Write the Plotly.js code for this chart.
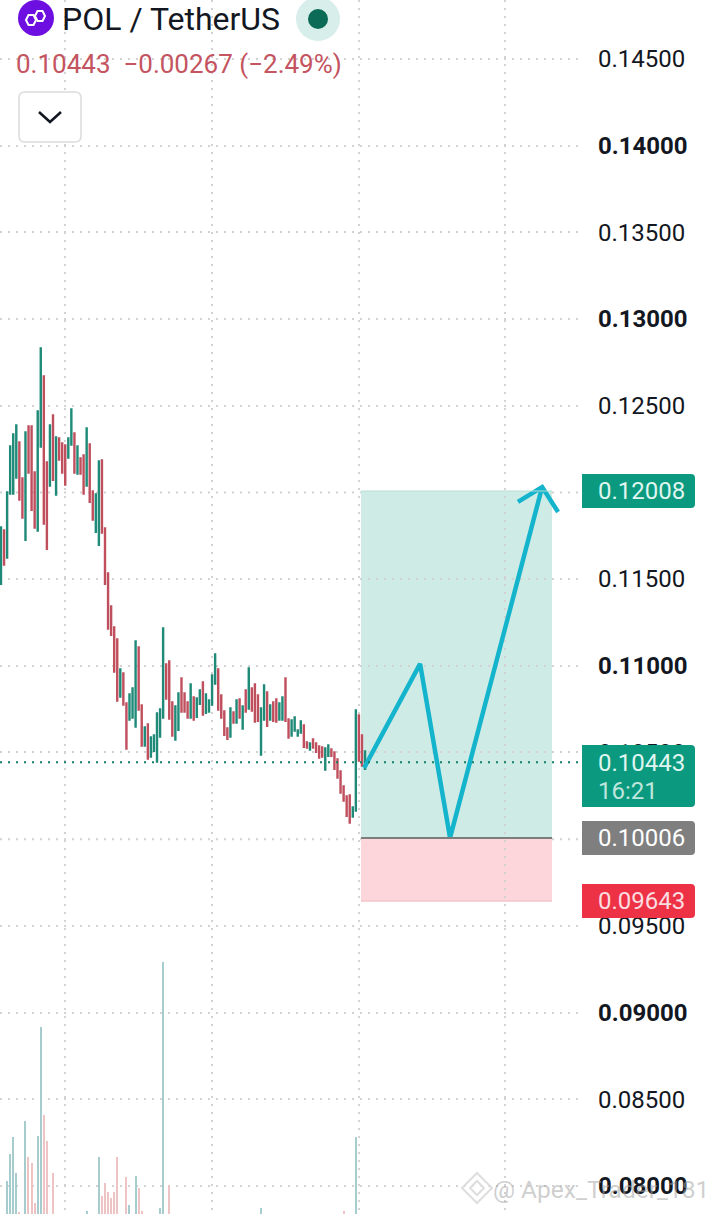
<!DOCTYPE html>
<html>
<head>
<meta charset="utf-8">
<script src="https://cdn.plot.ly/plotly-3.0.1.min.js"></script>
<style>html,body{margin:0;padding:0;background:#fff;overflow:hidden}#c{width:720px;height:1214px}</style>
</head>
<body>
<div id="c"></div>
<script>
const highs=[.11800,.11783,.12002,.12267,.12337,.12389,.12291,.12083,.12348,.12383,.12383,.12118,.12469,.12833,.12671,.12175,.12389,.12446,.12319,.12314,.12285,.12273,.12314,.12481,.12342,.12267,.12198,.12216,.12371,.12279,.12008,.11991,.12181,.12187,.11795,.11535,.11345,.11223,.11154,.10981,.10958,.10785,.10837,.10872,.11143,.11108,.10774,.10647,.10664,.10589,.10600,.10727,.10751,.11218,.11010,.11027,.10791,.10768,.10843,.10929,.10843,.10791,.10895,.10820,.10814,.10860,.10906,.10837,.10802,.10947,.11068,.10981,.10831,.10739,.10641,.10756,.10733,.10802,.10808,.10768,.10860,.10987,.10872,.10895,.10831,.10756,.10889,.10848,.10774,.10791,.10808,.10785,.10820,.10929,.10693,.10687,.10704,.10629,.10681,.10658,.10560,.10554,.10577,.10554,.10537,.10531,.10526,.10543,.10520,.10502,.10462,.10393,.10306,.10249,.10254,.10185,.10745,.10716,.10600,.10508];
const lows=[.11471,.11581,.11622,.11991,.11991,.12083,.11956,.11852,.11725,.12112,.11898,.11795,.11777,.12262,.11818,.11673,.12037,.12071,.11985,.12187,.12112,.12043,.12198,.12273,.12112,.12106,.12106,.11991,.12037,.11944,.11841,.11771,.11696,.11766,.11471,.11212,.11177,.10964,.10797,.10820,.10774,.10520,.10687,.10699,.10647,.10745,.10537,.10537,.10462,.10474,.10508,.10445,.10589,.10699,.10808,.10693,.10595,.10572,.10629,.10733,.10733,.10699,.10699,.10687,.10704,.10779,.10716,.10727,.10733,.10774,.10895,.10745,.10699,.10600,.10577,.10589,.10670,.10670,.10699,.10635,.10733,.10751,.10739,.10676,.10681,.10485,.10687,.10652,.10687,.10681,.10676,.10687,.10687,.10681,.10583,.10595,.10624,.10595,.10612,.10531,.10526,.10514,.10526,.10502,.10468,.10474,.10399,.10479,.10479,.10404,.10353,.10266,.10220,.10133,.10093,.10128,.10162,.10451,.10422,.10404];
const rising=[1,0,1,1,1,1,0,0,1,0,0,0,1,1,0,0,1,0,1,0,0,0,1,1,0,1,0,0,1,0,0,1,1,0,0,0,0,0,0,1,0,0,1,1,1,0,0,1,0,1,1,1,1,1,0,0,0,1,1,0,0,0,1,0,1,1,0,1,1,1,1,0,0,0,0,1,0,1,0,1,0,1,0,0,0,1,1,0,1,0,0,1,1,0,0,1,1,1,1,0,0,1,0,0,0,0,1,1,0,0,0,0,0,0,0,1,1,0,0,1];
const volumeIndex=[2,3,4,5,6,8,9,10,11,12,13,14,15,17,28,32,33,34,35,36,37,38,41,42,44,45,46,52,53,55,85,112,116];
const volumeValues=[33,60,77,41,2,93,57,51,11,78,187,99,73,41,3,57,18,31,22,16,22,57,37,9,38,26,3,6,252,29,6,3,77];
const priceTicks=[.145,.14,.135,.13,.125,.115,.11,.105,.095,.09,.085,.08];
const priceTickText=['0.14500','<b>0.14000</b>','0.13500','<b>0.13000</b>','0.12500','0.11500','<b>0.11000</b>','0.10500','0.09500','<b>0.09000</b>','0.08500','<b>0.08000</b>'];
const gridPrices=[.12,.10];
const timeGrid=[20.9,69,117,164.8];
const pathX=[118.7,137,146.8,176.9];
const pathY=[.10411,.11011,.10007,.12031];
const arrowX=[169,176.9,182.1];
const arrowY=[.11945,.12031,.11887];
const lastPrice=.10443, entry=.10006, target=.12008, stop=.09643;
const positionStart=117.69, positionEnd=180.12;

const PW=582,PH=1214;
const px=x=>x/PW, py=y=>1-y/PH;
const GREEN='#1f8a78',RED='#c04f5e';
const idx=highs.map((_,i)=>i);
const opens=idx.map(i=>rising[i]?lows[i]:highs[i]);
const closes=idx.map(i=>rising[i]?highs[i]:lows[i]);

const traces=[
 {type:'bar',x:volumeIndex,y:volumeValues,yaxis:'y2',width:.36,
  marker:{color:volumeIndex.map(i=>rising[i]?'#a6cccd':'#eec3c4'),line:{width:0}},hoverinfo:'skip'},
 {type:'candlestick',x:idx,open:opens,high:highs,low:lows,close:closes,whiskerwidth:0,
  increasing:{line:{color:GREEN,width:1.6},fillcolor:GREEN},
  decreasing:{line:{color:RED,width:1.6},fillcolor:RED}},
 {type:'scatter',mode:'lines',x:pathX,y:pathY,line:{color:'#14b4cd',width:4.5,simplify:false}},
 {type:'scatter',mode:'lines',x:arrowX,y:arrowY,line:{color:'#14b4cd',width:4.5,simplify:false}}
];

function rr(x0,y0,x1,y1,r,squareLeft){
 const X=px,Y=py;const l=squareLeft?0:r;
 return `M${X(x0+l)},${Y(y0)} L${X(x1-r)},${Y(y0)} Q${X(x1)},${Y(y0)} ${X(x1)},${Y(y0+r)} L${X(x1)},${Y(y1-r)} Q${X(x1)},${Y(y1)} ${X(x1-r)},${Y(y1)} L${X(x0+l)},${Y(y1)} Q${X(x0)},${Y(y1)} ${X(x0)},${Y(y1-l)} L${X(x0)},${Y(y0+l)} Q${X(x0)},${Y(y0)} ${X(x0+l)},${Y(y0)} Z`;
}
function poly(pts){return 'M'+pts.map(p=>px(p[0])+','+py(p[1])).join(' L')+' Z';}
function open(pts){return 'M'+pts.map(p=>px(p[0])+','+py(p[1])).join(' L');}
function hex(cx,cy,r){return poly([[cx-r,cy],[cx-r/2,cy-r],[cx+r/2,cy-r],[cx+r,cy],[cx+r/2,cy+r],[cx-r/2,cy+r]]);}
const pshape=(path,fill,line,w)=>({type:'path',xref:'paper',yref:'paper',path,fillcolor:fill||'rgba(0,0,0,0)',line:{color:line||'rgba(0,0,0,0)',width:w||0},layer:'above'});
const circle=(cx,cy,r,fill)=>({type:'circle',xref:'paper',yref:'paper',x0:px(cx-r),x1:px(cx+r),y0:py(cy+r),y1:py(cy-r),fillcolor:fill,line:{width:0},layer:'above'});

const shapes=[
 {type:'rect',xref:'x',yref:'y',x0:positionStart,x1:positionEnd,y0:entry,y1:target,fillcolor:'#cfebe5',line:{width:0},layer:'below'},
 {type:'rect',xref:'x',yref:'y',x0:positionStart,x1:positionEnd,y0:stop,y1:entry,fillcolor:'#fcd6da',line:{width:0},layer:'below'},
 ...gridPrices.map(p=>({type:'line',xref:'paper',yref:'y',x0:0,x1:1,y0:p,y1:p,line:{color:'#d2d2d2',width:2,dash:'2px,6px'},layer:'below'})),
 {type:'line',xref:'x',yref:'y',x0:positionStart,x1:positionEnd,y0:entry,y1:entry,line:{color:'#7d7d7d',width:2},layer:'above'},
 {type:'line',xref:'x',yref:'y',x0:positionStart,x1:positionEnd,y0:stop,y1:stop,line:{color:'#f3c4c8',width:1.5},layer:'above'},
 {type:'line',xref:'x',yref:'y',x0:positionStart,x1:positionEnd,y0:target,y1:target,line:{color:'#b9dfd7',width:1},layer:'above'},
 {type:'line',xref:'paper',yref:'y',x0:0,x1:1,y0:lastPrice,y1:lastPrice,line:{color:'#127f6d',width:2,dash:'2px,6px'},layer:'above'},
 pshape(rr(582,745,695,807,4,true),'#0b9a7f'),
 pshape(rr(582,821,695,855,4,true),'#7f7f7f'),
 pshape(rr(582,884,695,918,4,true),'#ee3246'),
 pshape(rr(582,474,695,508,4,true),'#0b9a7f'),
 circle(36,18,18,'#6c0fe0'),
 pshape(hex(31,20,5),'rgba(0,0,0,0)','#fff',2),
 pshape(hex(40,16,5),'rgba(0,0,0,0)','#fff',2),
 circle(318,19,22,'#d7eeea'),
 circle(318,19,10,'#0b6b57'),
 pshape(rr(19,92,81,142,6),'#fff','#dcdcdc',1.5),
 pshape(open([[39,112],[50,122],[61,112]]),null,'#131722',2.6),
 pshape(poly([[477,1173],[492,1188],[477,1203],[462,1188]]),'rgba(255,255,255,.3)','#dedede',2),
 pshape(poly([[477,1181],[484,1188],[477,1195],[470,1188]]),'rgba(255,255,255,.3)','#dedede',2)
];
const note=(t,x,y,size,color,w)=>({text:t,xref:'paper',yref:'paper',x:px(x),y:py(y),xanchor:'left',yanchor:'middle',showarrow:false,
  font:{family:'Roboto',size,color,weight:w||400},borderpad:0,align:'left'});
const annotations=[
 note('POL / TetherUS',61,19,32,'#131722'),
 note('0.10443  −0.00267 (−2.49%)',15,64,26,'#c4545f'),
 note('0.10443',597,763,24,'#dff5f0'),
 note('16:21',597,791,24,'#bfe6dd'),
 note('0.10006',597,838,24,'#ffffff'),
 note('0.09643',597,901,24,'#fbdde0'),
 note('0.12008',597,491,24,'#dff5f0'),
 note('@ Apex_Trader_181',492,1189,24.5,'rgba(165,165,165,.55)')
];
const layout={
 width:720,height:1214,margin:{l:0,r:138,t:0,b:0},paper_bgcolor:'#fff',plot_bgcolor:'#fff',showlegend:false,
 dragmode:false,bargap:0,boxgap:.62,
 font:{family:'Roboto',color:'#131722'},
 xaxis:{type:'linear',range:[-.327,189.93],tickmode:'array',tickvals:timeGrid,ticktext:timeGrid.map(()=>''),showgrid:true,
   gridcolor:'#d2d2d2',griddash:'2px,6px',gridwidth:2,zeroline:false,showline:false,ticks:'',rangeslider:{visible:false},fixedrange:true},
 yaxis:{side:'right',range:[.07838,.14840],tickmode:'array',tickvals:priceTicks,ticktext:priceTickText,showgrid:true,
   gridcolor:'#d2d2d2',griddash:'2px,6px',gridwidth:2,zeroline:false,showline:false,ticks:'',ticklabelstandoff:15,
   tickfont:{family:'Roboto',size:24,color:'#131722'},fixedrange:true,automargin:false},
 yaxis2:{overlaying:'y',side:'right',range:[0,1214],visible:false,fixedrange:true},
 shapes,annotations
};
Plotly.newPlot('c',traces,layout,{displayModeBar:false,responsive:false});
</script>
</body>
</html>
